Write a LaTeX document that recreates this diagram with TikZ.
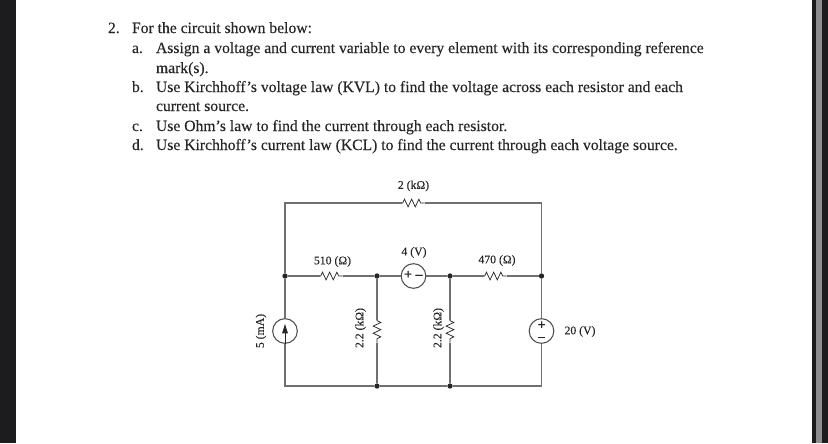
\documentclass[tikz,border=0pt]{standalone}
\usepackage{fontspec}
\setmainfont[RawFeature={embolden=0.15}]{Liberation Serif}
\usetikzlibrary{decorations.pathmorphing,arrows.meta}
\definecolor{ink}{HTML}{262626}
\definecolor{wire}{HTML}{707070}
\definecolor{dark}{HTML}{1C1C1E}
\definecolor{midgray}{HTML}{8E8E90}
\tikzset{
 x=0.75pt,y=-0.75pt,
 tx/.style={anchor=base west,inner sep=0,outer sep=0,text=ink,font=\fontsize{11.74pt}{13pt}\selectfont},
 lab/.style={inner sep=0,outer sep=0,text=ink,font=\fontsize{8.8pt}{10pt}\selectfont},
 wirel/.style={draw=wire,line width=0.85pt},
 res/.style={draw=ink,line width=0.55pt,decorate,decoration={zigzag,segment length=5.4pt,amplitude=2.9pt,pre length=0.5pt,post length=0.5pt}},
 src/.style={circle,draw=ink!80,fill=white,line width=0.8pt,minimum size=18.5pt,inner sep=0},
 junction/.style={circle,fill=ink,minimum size=4pt,inner sep=0},
 sign/.style={inner sep=0,outer sep=0,text=ink,text height=4pt,text depth=0pt,font=\bfseries\fontsize{10.5pt}{11pt}\selectfont},
 minusbar/.style={draw=ink,line width=1pt}
}
\begin{document}
\begin{tikzpicture}
\useasboundingbox (0,0) rectangle (828,443);
\fill[white] (0,0) rectangle (828,443);
\fill[dark] (0,0) rectangle (16,443);
\fill[dark] (812,0) rectangle (828,443);
\fill[midgray] (816,0) rectangle (822,443);
% text
\node[tx] (l0n) at (108,33) {2.};
\node[tx] (l0) at (132,33) {For the circuit shown below:};
\node[tx] (l1n) at (132,53) {a.};
\node[tx] (l1) at (156,53) {Assign a voltage and current variable to every element with its corresponding reference};
\node[tx] (l2) at (156,73) {mark(s).};
\node[tx] (l3n) at (132,92) {b.};
\node[tx] (l3) at (156,92) {Use Kirchhoff’s voltage law (KVL) to find the voltage across each resistor and each};
\node[tx] (l4) at (156,111) {current source.};
\node[tx] (l5n) at (132,131) {c.};
\node[tx] (l5) at (156,131) {Use Ohm’s law to find the current through each resistor.};
\node[tx] (l6n) at (132,150) {d.};
\node[tx] (l6) at (156,150) {Use Kirchhoff’s current law (KCL) to find the current through each voltage source.};
% circuit nodes
\coordinate (tl) at (285,203);
\coordinate (tr) at (541.5,203);
\node[junction] (ml) at (285,276) {};
\node[junction] (a) at (377,276) {};
\node[junction] (b) at (450,276) {};
\node[junction] (mr) at (541.5,276) {};
\coordinate (bl) at (285,386);
\node[junction] (c) at (377,386) {};
\node[junction] (d) at (450,386) {};
\coordinate (br) at (541.5,386);
\node[src] (is) at (285,331) {};
\node[src] (v4) at (413.5,276) {};
\node[src] (v20) at (541.5,331) {};
\coordinate (r2a) at (402,203); \coordinate (r2b) at (424.5,203);
\coordinate (r5a) at (320,276); \coordinate (r5b) at (342.5,276);
\coordinate (r4a) at (484,276); \coordinate (r4b) at (506.5,276);
\coordinate (rca) at (377,320); \coordinate (rcb) at (377,342.5);
\coordinate (rda) at (450,320); \coordinate (rdb) at (450,342.5);
% wires
\draw[wirel] (is) -- (ml) -- (tl) -- (r2a);
\draw[wirel] (r2b) -- (tr) -- (mr) -- (v20);
\draw[wirel] (v20) -- (br) -- (d) -- (c) -- (bl) -- (is);
\draw[wirel] (ml) -- (r5a);
\draw[wirel] (r5b) -- (a) -- (v4);
\draw[wirel] (v4) -- (b) -- (r4a);
\draw[wirel] (r4b) -- (mr);
\draw[wirel] (a) -- (rca); \draw[wirel] (rcb) -- (c);
\draw[wirel] (b) -- (rda); \draw[wirel] (rdb) -- (d);
% resistors
\draw[res] (r2a) -- (r2b);
\draw[res] (r5a) -- (r5b);
\draw[res] (r4a) -- (r4b);
\draw[res] (rca) -- (rcb);
\draw[res] (rda) -- (rdb);
% source symbols
\draw[ink,line width=0.7pt,-{Triangle[length=7pt,width=4.2pt]}] (is.south) -- (285,324);
\node[sign] (vp) at (408,276) {+};
\node[sign] (vm) at (419,276) {–};
\node[sign] (wp) at (541.5,326.5) {+};
\draw[minusbar] (538,337.5) -- (545,337.5);
% labels
\node[lab] (t2k) at (413.5,186) {2 (kΩ)};
\node[lab] (t510) at (332.5,261.5) {510 (Ω)};
\node[lab] (t4) at (414,252.5) {4 (V)};
\node[lab] (t470) at (497,260.5) {470 (Ω)};
\node[lab] (t20) at (580,331.5) {20 (V)};
\node[lab,rotate=90] (t5) at (261,331) {5 (mA)};
\node[lab,rotate=90] (t22a) at (360.5,328) {2.2 (kΩ)};
\node[lab,rotate=90] (t22b) at (438.5,328) {2.2 (kΩ)};
\end{tikzpicture}
\end{document}
